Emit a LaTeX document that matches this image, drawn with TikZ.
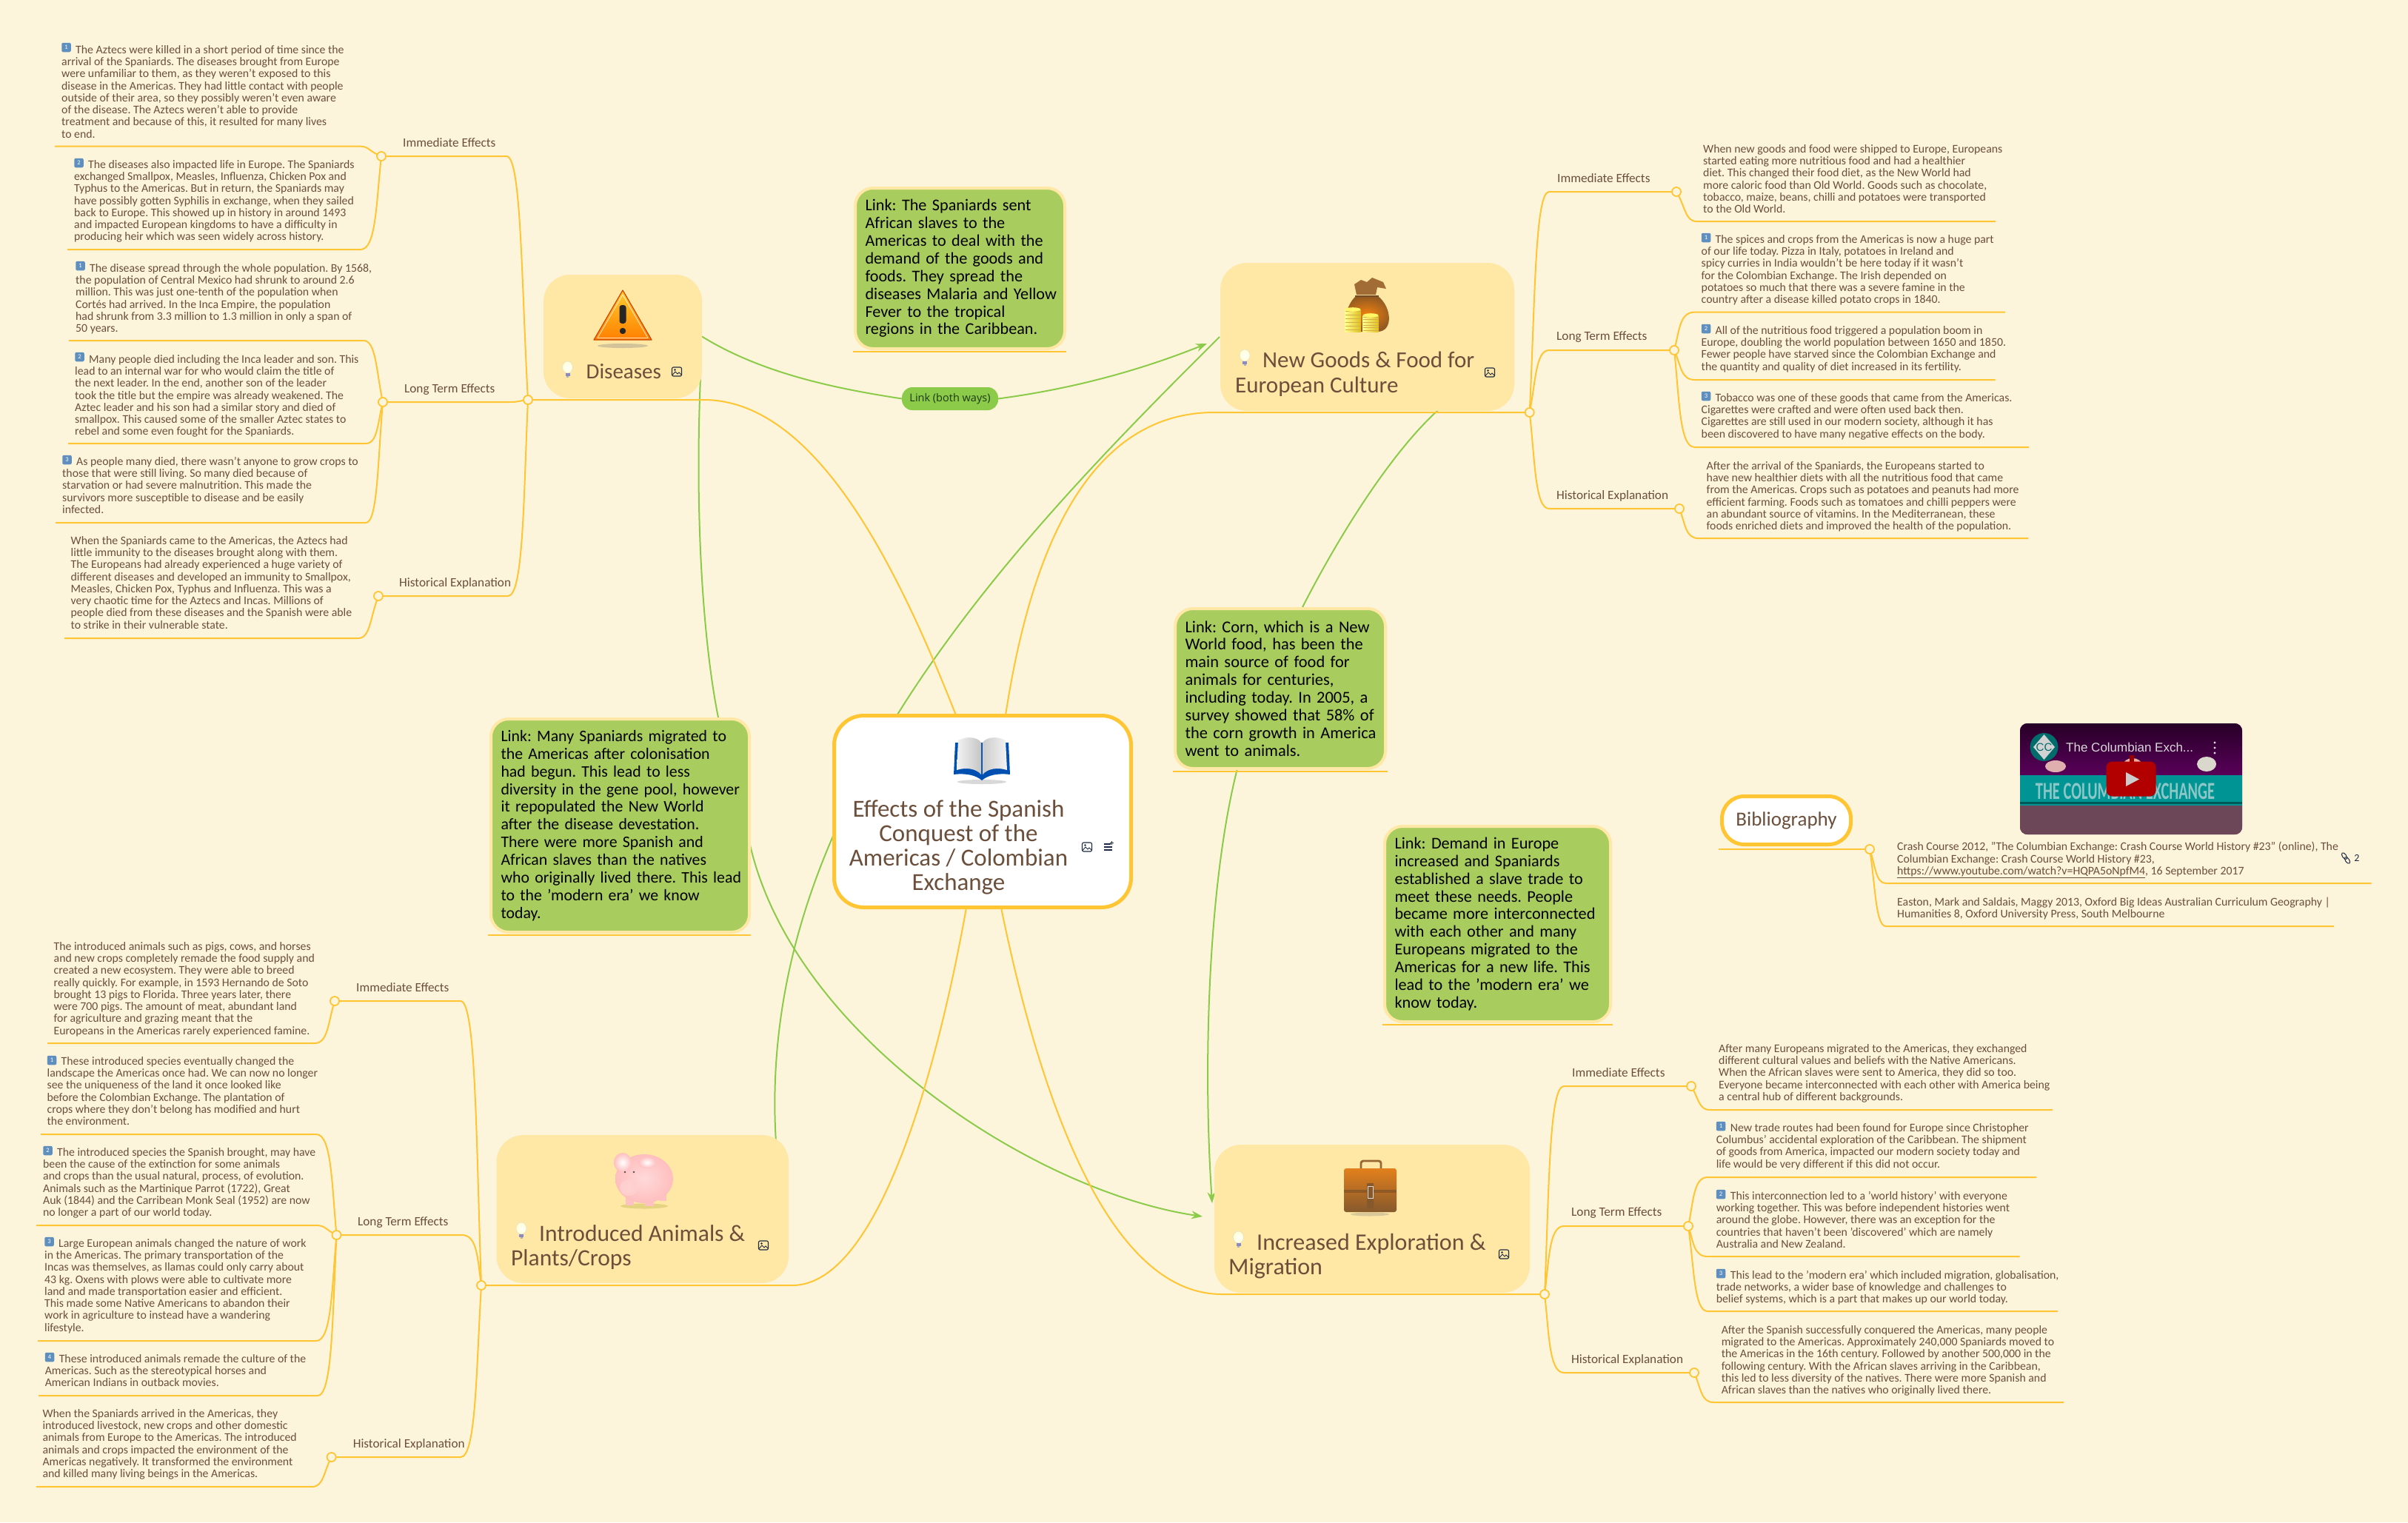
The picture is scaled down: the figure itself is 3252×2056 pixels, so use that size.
\documentclass[tikz,border=0pt]{standalone}
\usepackage{fontspec}
\setmainfont{Carlito}
\newfontfamily\pillfont{Open Sans}
\newfontfamily\vidfont{Liberation Sans}
\usetikzlibrary{arrows.meta,calc}
\definecolor{bgc}{HTML}{FCF5DC}
\definecolor{yl}{HTML}{FFC533}
\definecolor{topicc}{HTML}{FFE8A6}
\definecolor{lkc}{HTML}{A9CC5E}
\definecolor{grn}{HTML}{8CCB4A}
\definecolor{txt}{HTML}{6B4F3B}
\definecolor{icn}{HTML}{1F2A44}
\definecolor{badgec}{HTML}{5F8FBF}
\definecolor{warnt}{HTML}{FFCB2E}
\pgfdeclarelayer{bgl}\pgfdeclarelayer{lines}\pgfsetlayers{bgl,lines,main}
\AtBeginDocument{\frenchspacing}
\tikzset{
 wire/.style={draw=yl,line width=2pt},
 glink/.style={draw=grn,line width=2pt},
 gtip/.style={glink,-{Stealth[length=15pt,width=11pt]}},
 dot/.style={circle,draw=yl,fill=bgc,line width=1.8pt,minimum size=12pt,inner sep=0pt,outer sep=0pt},
 body/.style={anchor=north west,inner sep=0pt,yshift=-1pt,align=left,text=txt,font=\fontsize{15.8}{16.3}\selectfont},
 lab/.style={anchor=west,inner sep=0pt,text=txt,font=\fontsize{17.2}{20}\selectfont},
 badge/.style={fill=badgec,rounded corners=2pt,minimum size=12.5pt,inner sep=0pt,text=white,font=\fontsize{8.5}{9}\selectfont},
 topic/.style={rectangle,fill=topicc,rounded corners=36pt,inner sep=0pt,outer sep=0pt},
 toptxt/.style={anchor=north west,inner sep=0pt,align=left,text=txt},
 lkbox/.style={rectangle,fill=lkc,draw=topicc,line width=4pt,rounded corners=24pt,inner sep=0pt,outer sep=0pt,align=left,text=black},
 mainbox/.style={rectangle,fill=white,draw=yl,line width=5pt,rounded corners=40pt,inner sep=0pt,outer sep=0pt},
}
\newcommand{\boxnode}[7]{\node[#2,minimum width={(#5-#3)*1pt},minimum height={(#6-#4)*1pt}] (#1) at ({(#3+#5)/2},{(#4+#6)/2}) {#7};}
\newcommand{\lkbx}[7]{\node[lkbox,font=\fontsize{#6}{23.9}\selectfont,text width={(#4-#2-4)*1pt},minimum width={(#4-#2)*1pt},minimum height={(#5-#3)*1pt}] (#1) at ({(#2+#4)/2},{(#3+#5)/2}) {\leftskip=11.5pt\relax #7\par};}
\newcommand{\hookto}[6]{\draw[wire] (#1.center) .. controls (#3,{(#2+#5)/2}) and (#3,#5) .. (#4,#5) -- (#6);}
\newcommand{\twig}[7]{\coordinate (#1) at (#7,#6);\hookto{#2}{#3}{#4}{#5}{#6}{#1}}
\newcommand{\ulin}[4]{\coordinate (#1a) at (#2,#4);\coordinate (#1b) at (#3,#4);\draw[wire] (#1a) -- (#1b);}
\newcommand{\bulbicon}[2]{\begin{scope}[shift={(#1,#2)}]
 \shadedraw[inner color=white,outer color=yellow!18,draw=gray!30,line width=.4pt] (0,-3) ellipse (7pt and 8pt);
 \fill[gray!70!blue!70] (-3,4.5) rectangle (3,9);
 \fill[gray!60] (-1.5,9) rectangle (1.5,11);
 \end{scope}}
\newcommand{\imgicon}[2]{\begin{scope}[shift={(#1,#2)}]
 \draw[icn,rounded corners=2pt,line width=1.1pt] (-6.5,-6) rectangle (6.5,6);
 \draw[icn,line width=.9pt] (-6,4.5) -- (-2,0) -- (1,3) -- (3,1) -- (6,4);
 \fill[icn] (-2.5,-2.5) circle (1.4pt);
 \end{scope}}
\begin{document}
\begin{tikzpicture}[x=1pt,y=-1pt]
\path[use as bounding box] (0,0) rectangle (3252,2056);
\begin{pgfonlayer}{bgl}
\fill[bgc] (0,0) rectangle (3252,2056);
\end{pgfonlayer}

%% main topics
\boxnode{cen}{mainbox}{1126.5}{966.5}{1527.5}{1225.5}{}
\boxnode{dis}{topic}{734}{371}{948}{538}{}
\boxnode{ngf}{topic}{1648}{355}{2045}{555}{}
\boxnode{ani}{topic}{670.6}{1533}{1065}{1733}{}
\boxnode{exp}{topic}{1640}{1546}{2066}{1746}{}
\boxnode{bib}{mainbox,rounded corners=30pt,font=\fontsize{27}{30}\selectfont,text=txt}{2325.5}{1075.5}{2499.5}{1140.5}{\raisebox{-4pt}{Bibliography}}

\node[anchor=north,inner sep=0pt,align=center,text=txt,font=\fontsize{33}{33}\selectfont] (cenT) at (1294.5,1080) {Effects of the Spanish\\Conquest of the\\Americas / Colombian\\Exchange};
\node[toptxt,font=\fontsize{29}{33.5}\selectfont] (disT) at (791.5,491) {Diseases};
\node[toptxt,font=\fontsize{31}{33.5}\selectfont] (ngfT) at (1668,475) {\hspace*{37pt}New Goods \& Food for\\European Culture};
\node[toptxt,font=\fontsize{31.5}{33.5}\selectfont] (aniT) at (690,1654) {\hspace*{38pt}Introduced Animals \&\\Plants/Crops};
\node[toptxt,font=\fontsize{32}{33.5}\selectfont] (expT) at (1659,1666) {\hspace*{38pt}Increased Exploration \&\\Migration};

%% hubs
\node[dot] (h1) at (713,540) {};
\node[dot] (h2) at (2065.7,557) {};
\node[dot] (h3) at (650,1736) {};
\node[dot] (h4) at (2086,1748) {};
\node[dot] (c1a) at (515,211) {};
\node[dot] (c1b) at (517,543) {};
\node[dot] (c1c) at (511,805) {};
\node[dot] (c2a) at (2264,259) {};
\node[dot] (c2b) at (2261,473) {};
\node[dot] (c2c) at (2268,687) {};
\node[dot] (c3a) at (452,1352) {};
\node[dot] (c3b) at (454.5,1668) {};
\node[dot] (c3c) at (447.6,1968) {};
\node[dot] (c4a) at (2284,1467) {};
\node[dot] (c4b) at (2280,1656) {};
\node[dot] (c4c) at (2288,1854) {};
\node[dot] (cb) at (2525,1147) {};

%% branch labels
\node[lab] (la1) at (544,193) {Immediate Effects};
\node[lab] (la2) at (546,526) {Long Term Effects};
\node[lab] (la3) at (539,788) {Historical Explanation};
\node[lab] (lb1) at (2103,241) {Immediate Effects};
\node[lab] (lb2) at (2102,455) {Long Term Effects};
\node[lab] (lb3) at (2102,670) {Historical Explanation};
\node[lab] (lc1) at (481,1334) {Immediate Effects};
\node[lab] (lc2) at (483,1651) {Long Term Effects};
\node[lab] (lc3) at (476.6,1951) {Historical Explanation};
\node[lab] (ld1) at (2123,1449) {Immediate Effects};
\node[lab] (ld2) at (2122,1638) {Long Term Effects};
\node[lab] (ld3) at (2122,1837) {Historical Explanation};

%% Diseases leaves
\node[badge] (ba1) at (89.5,64) {1};
\node[body] (ta1) at (83,60) {\hspace*{19pt}The Aztecs were killed in a short period of time since the\\arrival of the Spaniards. The diseases brought from Europe\\were unfamiliar to them, as they weren't exposed to this\\disease in the Americas. They had little contact with people\\outside of their area, so they possibly weren't even aware\\of the disease. The Aztecs weren't able to provide\\treatment and because of this, it resulted for many lives\\to end.};
\node[badge] (ba2) at (106.5,220) {2};
\node[body] (ta2) at (100,215) {\hspace*{19pt}The diseases also impacted life in Europe. The Spaniards\\exchanged Smallpox, Measles, Influenza, Chicken Pox and\\Typhus to the Americas. But in return, the Spaniards may\\have possibly gotten Syphilis in exchange, when they sailed\\back to Europe. This showed up in history in around 1493\\and impacted European kingdoms to have a difficulty in\\producing heir which was seen widely across history.};
\node[badge] (ba3) at (108.5,359) {1};
\node[body] (ta3) at (102,355) {\hspace*{19pt}The disease spread through the whole population. By 1568,\\the population of Central Mexico had shrunk to around 2.6\\million. This was just one-tenth of the population when\\Cortés had arrived. In the Inca Empire, the population\\had shrunk from 3.3 million to 1.3 million in only a span of\\50 years.};
\node[badge] (ba4) at (107.5,482) {2};
\node[body] (ta4) at (101,478) {\hspace*{19pt}Many people died including the Inca leader and son. This\\lead to an internal war for who would claim the title of\\the next leader. In the end, another son of the leader\\took the title but the empire was already weakened. The\\Aztec leader and his son had a similar story and died of\\smallpox. This caused some of the smaller Aztec states to\\rebel and some even fought for the Spaniards.};
\node[badge] (ba5) at (90.5,621) {3};
\node[body] (ta5) at (84,616) {\hspace*{19pt}As people many died, there wasn't anyone to grow crops to\\those that were still living. So many died because of\\starvation or had severe malnutrition. This made the\\survivors more susceptible to disease and be easily\\infected.};
\node[body] (ta6) at (95.5,723) {When the Spaniards came to the Americas, the Aztecs had\\little immunity to the diseases brought along with them.\\The Europeans had already experienced a huge variety of\\different diseases and developed an immunity to Smallpox,\\Measles, Chicken Pox, Typhus and Influenza. This was a\\very chaotic time for the Aztecs and Incas. Millions of\\people died from these diseases and the Spanish were able\\to strike in their vulnerable state.};

%% Animals leaves
\node[body] (tc1) at (72.5,1271) {The introduced animals such as pigs, cows, and horses\\and new crops completely remade the food supply and\\created a new ecosystem. They were able to breed\\really quickly. For example, in 1593 Hernando de Soto\\brought 13 pigs to Florida. Three years later, there\\were 700 pigs. The amount of meat, abundant land\\for agriculture and grazing meant that the\\Europeans in the Americas rarely experienced famine.};
\node[badge] (bc2) at (70,1432) {1};
\node[body] (tc2) at (63.5,1426) {\hspace*{19pt}These introduced species eventually changed the\\landscape the Americas once had. We can now no longer\\see the uniqueness of the land it once looked like\\before the Colombian Exchange. The plantation of\\crops where they don't belong has modified and hurt\\the environment.};
\node[badge] (bc3) at (64.5,1554) {2};
\node[body] (tc3) at (58,1549) {\hspace*{19pt}The introduced species the Spanish brought, may have\\been the cause of the extinction for some animals\\and crops than the usual natural, process, of evolution.\\Animals such as the Martinique Parrot (1722), Great\\Auk (1844) and the Carribean Monk Seal (1952) are now\\no longer a part of our world today.};
\node[badge] (bc4) at (66.5,1677) {3};
\node[body] (tc4) at (60,1672) {\hspace*{19pt}Large European animals changed the nature of work\\in the Americas. The primary transportation of the\\Incas was themselves, as llamas could only carry about\\43 kg. Oxens with plows were able to cultivate more\\land and made transportation easier and efficient.\\This made some Native Americans to abandon their\\work in agriculture to instead have a wandering\\lifestyle.};
\node[badge] (bc5) at (67,1833) {4};
\node[body] (tc5) at (60.6,1828) {\hspace*{19pt}These introduced animals remade the culture of the\\Americas. Such as the stereotypical horses and\\American Indians in outback movies.};
\node[body] (tc6) at (57.4,1902) {When the Spaniards arrived in the Americas, they\\introduced livestock, new crops and other domestic\\animals from Europe to the Americas. The introduced\\animals and crops impacted the environment of the\\Americas negatively. It transformed the environment\\and killed many living beings in the Americas.};

%% New goods leaves
\node[body] (tb1) at (2300,194) {When new goods and food were shipped to Europe, Europeans\\started eating more nutritious food and had a healthier\\diet. This changed their food diet, as the New World had\\more caloric food than Old World. Goods such as chocolate,\\tobacco, maize, beans, chilli and potatoes were transported\\to the Old World.};
\node[badge] (bb2) at (2304,321) {1};
\node[body] (tb2) at (2297.5,316) {\hspace*{19pt}The spices and crops from the Americas is now a huge part\\of our life today. Pizza in Italy, potatoes in Ireland and\\spicy curries in India wouldn't be here today if it wasn't\\for the Colombian Exchange. The Irish depended on\\potatoes so much that there was a severe famine in the\\country after a disease killed potato crops in 1840.};
\node[badge] (bb3) at (2304,444) {2};
\node[body] (tb3) at (2297.5,439) {\hspace*{19pt}All of the nutritious food triggered a population boom in\\Europe, doubling the world population between 1650 and 1850.\\Fewer people have starved since the Colombian Exchange and\\the quantity and quality of diet increased in its fertility.};
\node[badge] (bb4) at (2304,535) {3};
\node[body] (tb4) at (2297.5,530) {\hspace*{19pt}Tobacco was one of these goods that came from the Americas.\\Cigarettes were crafted and were often used back then.\\Cigarettes are still used in our modern society, although it has\\been discovered to have many negative effects on the body.};
\node[body] (tb5) at (2304.5,622) {After the arrival of the Spaniards, the Europeans started to\\have new healthier diets with all the nutritious food that came\\from the Americas. Crops such as potatoes and peanuts had more\\efficient farming. Foods such as tomatoes and chilli peppers were\\an abundant source of vitamins. In the Mediterranean, these\\foods enriched diets and improved the health of the population.};

%% Exploration leaves
\node[body] (td1) at (2321,1409) {After many Europeans migrated to the Americas, they exchanged\\different cultural values and beliefs with the Native Americans.\\When the African slaves were sent to America, they did so too.\\Everyone became interconnected with each other with America being\\a central hub of different backgrounds.};
\node[badge] (bd2) at (2324,1521) {1};
\node[body] (td2) at (2317.6,1516) {\hspace*{19pt}New trade routes had been found for Europe since Christopher\\Columbus' accidental exploration of the Caribbean. The shipment\\of goods from America, impacted our modern society today and\\life would be very different if this did not occur.};
\node[badge] (bd3) at (2324,1613) {2};
\node[body] (td3) at (2317.6,1608) {\hspace*{19pt}This interconnection led to a 'world history' with everyone\\working together. This was before independent histories went\\around the globe. However, there was an exception for the\\countries that haven't been 'discovered' which are namely\\Australia and New Zealand.};
\node[badge] (bd4) at (2324,1720) {3};
\node[body] (td4) at (2317.6,1715) {\hspace*{19pt}This lead to the 'modern era' which included migration, globalisation,\\trade networks, a wider base of knowledge and challenges to\\belief systems, which is a part that makes up our world today.};
\node[body] (td5) at (2324.6,1789) {After the Spanish successfully conquered the Americas, many people\\migrated to the Americas. Approximately 240,000 Spaniards moved to\\the Americas in the 16th century. Followed by another 500,000 in the\\following century. With the African slaves arriving in the Caribbean,\\this led to less diversity of the natives. There were more Spanish and\\African slaves than the natives who originally lived there.};

%% Bibliography leaves
\node[body] (te1) at (2562,1136) {Crash Course 2012, "The Columbian Exchange: Crash Course World History \#23" (online), The\\Columbian Exchange: Crash Course World History \#23,\\\underline{https://www.youtube.com/watch?v=HQPA5oNpfM4}, 16 September 2017};
\node[body] (te2) at (2562,1211) {Easton, Mark and Saldais, Maggy 2013, Oxford Big Ideas Australian Curriculum Geography |\\Humanities 8, Oxford University Press, South Melbourne};
\node[inner sep=0pt,text=icn,font=\fontsize{14}{16}\selectfont] (lnk2) at (3183,1159) {2};
\begin{scope}[shift={(3168,1159)},rotate=-55]
 \draw[icn,line width=1pt] (-3.5,0) ellipse (5pt and 2.6pt);
 \draw[icn,line width=1pt] (3.5,0) ellipse (5pt and 2.6pt);
\end{scope}

%% Link boxes
\lkbx{lk1}{1155}{254}{1438}{471}{22.2}{Link: The Spaniards sent\\African slaves to the\\Americas to deal with the\\demand of the goods and\\foods. They spread the\\diseases Malaria and Yellow\\Fever to the tropical\\regions in the Caribbean.}
\lkbx{lk2}{663}{971}{1012}{1259}{21.8}{Link: Many Spaniards migrated to\\the Americas after colonisation\\had begun. This lead to less\\diversity in the gene pool, however\\it repopulated the New World\\after the disease devestation.\\There were more Spanish and\\African slaves than the natives\\who originally lived there. This lead\\to the 'modern era' we know\\today.}
\lkbx{lk3}{1587}{822}{1871}{1038}{22.4}{Link: Corn, which is a New\\World food, has been the\\main source of food for\\animals for centuries,\\including today. In 2005, a\\survey showed that 58\% of\\the corn growth in America\\went to animals.}
\lkbx{lk4}{1870}{1116}{2175}{1380}{22.2}{Link: Demand in Europe\\increased and Spaniards\\established a slave trade to\\meet these needs. People\\became more interconnected\\with each other and many\\Europeans migrated to the\\Americas for a new life. This\\lead to the 'modern era' we\\know today.}

%% link pill
\boxnode{pill}{rectangle,fill=grn,rounded corners=14pt,inner sep=0pt,outer sep=0pt,text=txt!65!green!40!black,font=\pillfont\fontsize{14.5}{15}\selectfont}{1218}{523}{1348}{554}{Link (both ways)}

%% connectors, beneath the nodes
\begin{pgfonlayer}{lines}
 \coordinate (gsd) at (946,510);
 \coordinate (gtn) at (970,969);
 \coordinate (gs2) at (1012,1137);
 \coordinate (tipe1) at (1624,1643);
 \coordinate (tipe2) at (1637,1625);
 \coordinate (tipn) at (1630,464);
 \coordinate (ganit) at (1048,1543);
 \coordinate (gngb) at (1647,455);
 \coordinate (gnb) at (1943,553);
 \coordinate (gct) at (1758,822);
 \coordinate (gcb) at (1671,1038);
 \draw[glink] (dis.east) .. controls (1030,505) and (1130,525) .. (pill.west);
 \draw[gtip] (pill.east) .. controls (1450,525) and (1540,500) .. (tipn);
 \draw[glink] (gsd) .. controls (938,700) and (950,870) .. (gtn);
 \draw[gtip] (gs2) .. controls (1070,1400) and (1400,1610) .. (tipe1);
 \draw[glink] (ganit) .. controls (1020,1100) and (1350,750) .. (gngb);
 \draw[glink] (gnb) .. controls (1880,610) and (1810,720) .. (gct);
 \draw[gtip] (gcb) .. controls (1630,1200) and (1625,1450) .. (tipe2);
 \coordinate (ca) at (1291,966);
 \coordinate (cb2) at (1358,966);
 \coordinate (cc) at (1305,1226);
 \coordinate (cd) at (1352,1226);
 \draw[wire] (h1.center) -- (950,540) .. controls (1100,540) and (1210,760) .. (ca);
 \draw[wire] (cb2) .. controls (1385,790) and (1450,557) .. (1640,557) -- (h2.center);
 \draw[wire] (cc) .. controls (1265,1450) and (1185,1736) .. (1070,1736) -- (h3.center);
 \draw[wire] (cd) .. controls (1400,1460) and (1490,1748) .. (1650,1748) -- (h4.center);

 \hookto{h1}{540}{704}{684}{211}{c1a.center}
 \hookto{h1}{540}{700}{689}{543}{c1b.center}
 \hookto{h1}{540}{707}{686}{805}{c1c.center}
 \hookto{h2}{557}{2073}{2092}{259}{c2a.center}
 \hookto{h2}{557}{2074}{2092}{473}{c2b.center}
 \hookto{h2}{557}{2073}{2092}{687}{c2c.center}
 \hookto{h3}{1736}{643}{622}{1352}{c3a.center}
 \hookto{h3}{1736}{645}{624}{1668}{c3b.center}
 \hookto{h3}{1736}{643}{622}{1968}{c3c.center}
 \hookto{h4}{1748}{2092}{2112}{1467}{c4a.center}
 \hookto{h4}{1748}{2092}{2112}{1656}{c4b.center}
 \hookto{h4}{1748}{2092}{2112}{1854}{c4c.center}

 \twig{ua1}{c1a}{211}{498}{487}{197.7}{74}
 \twig{ua2}{c1a}{211}{508}{487}{337}{91}
 \twig{ua3}{c1b}{543}{508}{491}{460}{93}
 \twig{ua4}{c1b}{543}{510}{494}{599}{92}
 \twig{ua5}{c1b}{543}{510}{494}{706}{75}
 \twig{ua6}{c1c}{805}{500}{484}{862}{87}
 \twig{uc1}{c3a}{1352}{443}{425}{1409}{64}
 \twig{uc2}{c3b}{1668}{448}{427}{1532}{55}
 \twig{uc3}{c3b}{1668}{440}{427}{1655}{49}
 \twig{uc4}{c3b}{1668}{448}{427}{1811}{51}
 \twig{uc5}{c3b}{1668}{449}{429}{1885}{52}
 \twig{uc6}{c3c}{1968}{437}{421.5}{2008}{49}
 \twig{ub1}{c2a}{259}{2276}{2291}{299}{2695}
 \twig{ub2}{c2b}{473}{2268}{2288.6}{421.6}{2708}
 \twig{ub3}{c2b}{473}{2270}{2288.6}{513}{2694.5}
 \twig{ub4}{c2b}{473}{2268}{2288.6}{604}{2740}
 \twig{ub5}{c2c}{687}{2276}{2293.5}{727}{2739}
 \twig{ud1}{c4a}{1467}{2294}{2309}{1499}{2772}
 \twig{ud2}{c4b}{1656}{2287}{2306}{1590}{2750}
 \twig{ud3}{c4b}{1656}{2287}{2306}{1697}{2727.6}
 \twig{ud4}{c4b}{1656}{2288}{2306}{1771}{2779}
 \twig{ud5}{c4c}{1854}{2297}{2314}{1894}{2787}
 \twig{ue1}{cb}{1147}{2533}{2547}{1193}{3202.5}
 \twig{ue2}{cb}{1147}{2533}{2547}{1251}{3152}
 \coordinate (ubb) at (2321,1147);
 \draw[wire] (ubb) -- (cb.center);
 \ulin{ul1}{1152}{1440}{475}
 \ulin{ul2}{659}{1014}{1263}
 \ulin{ul3}{1584}{1873.6}{1042}
 \ulin{ul4}{1867}{2178}{1384}
\end{pgfonlayer}

%% small icons
\bulbicon{766.5}{499}
\bulbicon{1681}{483}
\bulbicon{704}{1662}
\bulbicon{1672.5}{1674}
\imgicon{914}{502}
\imgicon{2012}{503}
\imgicon{1031}{1682}
\imgicon{2031}{1694}
\imgicon{1468}{1144}
\begin{scope}[shift={(1496.5,1143)}]
 \draw[icn,line width=1.1pt] (-6,-3) -- (3,-3) (-6,1) -- (5,1) (-6,5) -- (5,5);
 \draw[icn,line width=1pt] (5,-7) -- (5,-2) (2.5,-4.5) -- (7.5,-4.5);
\end{scope}

%% warning icon
\fill[gray,opacity=.35] (841,467) ellipse (34pt and 3pt);
\shadedraw[top color=warnt,bottom color=orange,draw=orange!70!red!80!black,line width=1.2pt,line join=round] (841,392) -- (880,459) -- (802,459) -- cycle;
\draw[white,opacity=.7,line width=.9pt,line join=round] (841,398) -- (875,456.5) -- (807,456.5) -- cycle;
\fill[black!85,rounded corners=3.5pt] (836.5,412) rectangle (845.5,437);
\fill[black!85] (841,447) circle (4.2pt);

%% book icon
\fill[gray,opacity=.3] (1326,1056) ellipse (33pt and 3pt);
\fill[blue!55!cyan!70!black] (1290,1003) -- (1288,1046) .. controls (1305,1044) and (1318,1047) .. (1326,1054) .. controls (1334,1047) and (1347,1044) .. (1364,1046) -- (1362,1003) -- cycle;
\shade[left color=gray!10,right color=gray!45] (1294,1000) .. controls (1305,994) and (1320,995) .. (1325,1003) -- (1325,1046) .. controls (1318,1038) and (1305,1036) .. (1292,1040) -- cycle;
\shade[left color=gray!40,right color=gray!10] (1358,1000) .. controls (1347,994) and (1332,995) .. (1327,1003) -- (1327,1046) .. controls (1334,1038) and (1347,1036) .. (1360,1040) -- cycle;

%% money bag icon
\fill[brown!85!black] (1832,398) -- (1829,384) -- (1838,378) -- (1846,381) -- (1853,375) -- (1868,381) -- (1872,390) -- (1860,388) -- (1858,398) -- cycle;
\shade[inner color=orange!75!brown,outer color=brown!75!orange!70!black] (1831,400) .. controls (1815,415) and (1810,448) .. (1835,448) -- (1860,448) .. controls (1882,448) and (1880,415) .. (1861,400) -- cycle;
\draw[brown!60!black,line width=2pt] (1830,400) -- (1862,400);
\foreach \cx/\ct in {1827/418,1851/426}{
 \shade[left color=yellow!45!white,right color=yellow!50!brown] ({\cx-10.5},\ct) rectangle ({\cx+10.5},448);
 \foreach \ly in {0,1,...,5}{\draw[yellow!30!brown,line width=.5pt] ({\cx-10.5},{\ct+2+\ly*(448-\ct)/6}) -- ({\cx+10.5},{\ct+2+\ly*(448-\ct)/6});}
 \fill[yellow!60!white] (\cx,\ct) ellipse (10.5pt and 2.8pt);
}

%% pig icon
\fill[olive!60,opacity=.4] (870,1629) ellipse (32pt and 3.5pt);
\fill[pink!80!red!60] (845,1610) rectangle (856,1628);
\fill[pink!80!red!60] (871,1612) rectangle (883,1629);
\fill[pink!80!red!60] (890,1606) rectangle (900,1622);
\shade[inner color=pink!60!white,outer color=pink!85!red!70] (870,1592) ellipse (39pt and 33pt);
\shade[inner color=white,outer color=pink!85!red!70] (841,1570) ellipse (12pt and 13pt);
\shade[inner color=white,outer color=pink!85!red!70] (874,1570) ellipse (12pt and 8pt);
\shade[inner color=pink!70!white,outer color=pink!90!red!60] (849,1604) ellipse (12pt and 11pt);
\fill[black!70] (844,1583) circle (1.3pt) (856,1583) circle (1.3pt);

%% briefcase icon
\fill[gray,opacity=.3] (1850,1640) ellipse (26pt and 2.5pt);
\draw[brown!80!black,line width=2.8pt,rounded corners=3pt] (1838,1579) -- (1838,1568) -- (1865,1568) -- (1865,1579);
\shade[top color=orange!55!brown,bottom color=brown!70!black,rounded corners=3pt] (1815,1578) rectangle (1886,1637);
\fill[brown!60!black,opacity=.55] (1815,1607) -- (1886,1607) -- (1886,1611) -- (1815,1611) -- cycle;
\fill[brown!70!black,rounded corners=1pt] (1846,1598) rectangle (1855,1632);
\draw[gray!30,line width=.9pt] (1847,1602) -- (1847,1618) -- (1854,1618) -- (1854,1602) -- cycle;

%% video thumbnail
\boxnode{vid}{rectangle,fill=black!30!violet!60!black,rounded corners=10pt,inner sep=0pt,outer sep=0pt}{2728}{977}{3028}{1127}{}
\begin{scope}
 \clip[rounded corners=10pt] (2728,977) rectangle (3028,1127);
 \shade[top color=black!40!violet!50!black,bottom color=magenta!40!violet!50!black] (2728,977) rectangle (3028,1047);
 \fill[teal!70!cyan!90!black] (2728,1047) rectangle (3028,1088);
 \fill[magenta!35!violet!50!black] (2728,1088) rectangle (3028,1127);
 \fill[black!30!teal] (2728,1083) rectangle (3028,1086);
 \fill[pink!75!gray] (2776,1035) ellipse (14pt and 8pt);
 \fill[yellow!15!gray!40!white] (2980,1032) ellipse (13pt and 10pt);
 \fill[pink!70!brown] (2880,1034) ellipse (13pt and 10pt);
 \fill[red!60!black] (2876,1020) rectangle (2882,1040);
\end{scope}
\node[inner sep=0pt,text=teal!45!white,font=\fontsize{33}{34}\bfseries\selectfont,xscale=.62] (vban) at (2870,1069) {THE COLUMBIAN EXCHANGE};
\fill[teal!85!black] (2760.5,1009) circle (19pt);
\fill[gray!35] (2760.5,992) -- (2775,1009) -- (2760.5,1026) -- (2746,1009) -- cycle;
\node[inner sep=0pt,text=teal!85!black,font=\vidfont\fontsize{15}{16}\selectfont] (vcc) at (2760.5,1009) {CC};
\node[anchor=west,inner sep=0pt,text=gray!30,font=\vidfont\fontsize{17}{18}\selectfont] (vti) at (2790,1009) {The Columbian Exch...};
\fill[gray!30] (2991,1003) circle (1.6pt) (2991,1010) circle (1.6pt) (2991,1017) circle (1.6pt);
\fill[red!70!black,rounded corners=8pt] (2844.5,1028.5) rectangle (2911.5,1075.5);
\fill[gray!40] (2871,1043) -- (2889,1052.5) -- (2871,1062) -- cycle;
\end{tikzpicture}
\end{document}
